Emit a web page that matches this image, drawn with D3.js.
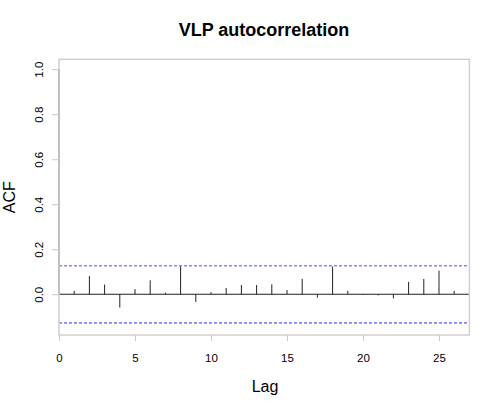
<!DOCTYPE html>
<meta charset="utf-8">
<style>
  body { margin: 0; background: #fff; }
  text { font-family: "Liberation Sans", Arial, sans-serif; fill: #000; }
</style>
<div id="chart"></div>
<script src="https://d3js.org/d3.v7.min.js"></script>
<script>

// acf values, lag 0..26
var lags = d3.range(0, 27);
var acfValues = [1.0, 0.015, 0.081, 0.043, -0.059, 0.023, 0.062, 0.007, 0.130, -0.034,
                 0.009, 0.028, 0.041, 0.041, 0.044, 0.019, 0.068, -0.015, 0.123, 0.015,
                 -0.003, -0.005, -0.018, 0.055, 0.068, 0.105, 0.015];
var confBound = 0.127;
var xTicks = [0, 5, 10, 15, 20, 25];
var yTicks = [0, 0.2, 0.4, 0.6, 0.8, 1.0];

var width = 500, height = 409;
var pLeft = 59, pRight = 469.4, pTop = 59.3, pBottom = 335;

var svg = d3.select("#chart").append("svg")
    .attr("width", width)
    .attr("height", height);

var x = d3.scaleLinear().domain([0, 27]).range([pLeft, pRight]);
var y = d3.scaleLinear().domain([-0.181, 1.044]).range([pBottom, pTop]);

// spikes
svg.selectAll(".spike")
    .data(lags)
    .enter().append("line")
    .attr("class", "spike")
    .attr("x1", function(d) { return x(d); })
    .attr("x2", function(d) { return x(d); })
    .attr("y1", y(0))
    .attr("y2", function(d) { return y(acfValues[d]); })
    .attr("stroke", "#222")
    .attr("stroke-width", 1);

// zero line
svg.append("line")
    .attr("x1", pLeft).attr("x2", pRight)
    .attr("y1", y(0)).attr("y2", y(0))
    .attr("stroke", "#222");

// confidence bounds
svg.selectAll(".bound")
    .data([confBound, -confBound])
    .enter().append("line")
    .attr("class", "bound")
    .attr("x1", pLeft).attr("x2", pRight)
    .attr("y1", function(d) { return y(d); })
    .attr("y2", function(d) { return y(d); })
    .attr("stroke", "#8585ff")
    .attr("stroke-width", 1.6)
    .attr("stroke-dasharray", "3,2");

// box
svg.append("rect")
    .attr("x", pLeft).attr("y", pTop)
    .attr("width", pRight - pLeft).attr("height", pBottom - pTop)
    .attr("fill", "none")
    .attr("stroke", "#d0d0d0")
    .attr("stroke-width", 1.5);

// x axis
var xAxis = svg.append("g")
    .attr("transform", "translate(0," + pBottom + ")")
    .call(d3.axisBottom(x).tickValues(xTicks).tickSize(6).tickPadding(13)
        .tickFormat(d3.format("d")));
xAxis.select(".domain").remove();
xAxis.selectAll(".tick line").attr("stroke", "#c8c8c8");
xAxis.selectAll(".tick text")
    .style("font-family", "Liberation Sans, Arial, sans-serif")
    .style("font-size", "11.5px");

// y axis
var yAxis = svg.append("g")
    .attr("transform", "translate(" + pLeft + ",0)")
    .call(d3.axisLeft(y).tickValues(yTicks).tickSize(7).tickFormat(d3.format(".1f")));
yAxis.select(".domain").remove();
yAxis.selectAll(".tick line").attr("stroke", "#c8c8c8");
yAxis.selectAll(".tick text")
    .style("font-family", "Liberation Sans, Arial, sans-serif")
    .style("font-size", "11.5px")
    .attr("text-anchor", "middle")
    .attr("x", 0)
    .attr("dy", 0)
    .attr("transform", "translate(-16,0) rotate(-90)");

// title and labels
svg.append("text")
    .attr("x", 264).attr("y", 36)
    .attr("text-anchor", "middle")
    .style("font-size", "18px")
    .style("font-weight", "bold")
    .text("VLP autocorrelation");

svg.append("text")
    .attr("x", 265).attr("y", 392)
    .attr("text-anchor", "middle")
    .style("font-size", "16px")
    .text("Lag");

svg.append("text")
    .attr("transform", "translate(15," + ((pTop + pBottom) / 2) + ") rotate(-90)")
    .attr("text-anchor", "middle")
    .style("font-size", "16px")
    .text("ACF");
</script>
